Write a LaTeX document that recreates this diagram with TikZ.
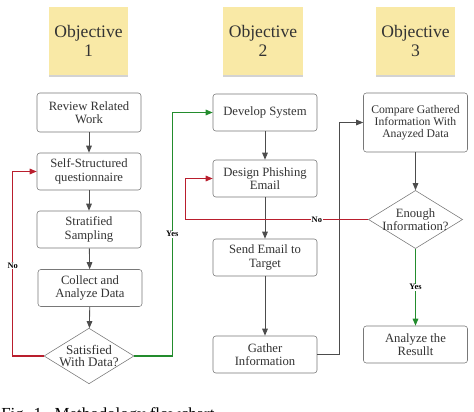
\documentclass[tikz,border=0pt]{standalone}
\usepackage{fontspec}
\setmainfont{Liberation Serif}
\usetikzlibrary{shapes.geometric,arrows.meta,shadows}
\definecolor{notey}{RGB}{249,233,166}
\definecolor{nored}{RGB}{185,30,45}
\definecolor{yesgreen}{RGB}{35,140,45}
\definecolor{boxline}{RGB}{120,120,120}

\begin{document}
\begin{tikzpicture}[x=0.025cm,y=-0.025cm,
  note/.style={fill=notey, minimum width=1.975cm, minimum height=1.7cm, align=center, text=black!80,
    font=\fontsize{12.5}{13}\selectfont, drop shadow={shadow xshift=0pt, shadow yshift=-1.5pt, opacity=.35}},
  stepbox/.style={draw=boxline, rounded corners=2pt, fill=white, minimum width=2.6cm, minimum height=0.925cm,
    align=center, text=black!80, font=\fontsize{9}{9.4}\selectfont},
  decide/.style={diamond, draw=boxline, fill=white, aspect=1.62, inner sep=-1pt, minimum width=2.25cm,
    minimum height=1.39cm, align=center, text=black!80, font=\fontsize{9.3}{9}\selectfont},
  flow/.style={draw=black!70, line width=.6pt, -{Triangle[length=5pt,width=4pt]}},
  noline/.style={draw=nored, line width=.8pt, -{Triangle[length=5pt,width=4pt]}},
  yesline/.style={draw=yesgreen, line width=.8pt, -{Triangle[length=5pt,width=4pt]}},
  lbl/.style={fill=white, inner sep=.5pt, text=black, font=\fontsize{6}{7}\selectfont\bfseries}]
\useasboundingbox (0,0) rectangle (474,412);

% objectives
\node[note] (obj1) at (88.5,41) {Objective\\1};
\node[note] (obj2) at (263,41) {Objective\\2};
\node[note] (obj3) at (415.5,41) {Objective\\3};

% objective 1
\node[stepbox, minimum height=0.975cm] (review) at (89,112.5) {Review Related\\Work};
\node[stepbox] (selfq) at (89,171.5) {Self-Structured\\questionnaire};
\node[stepbox] (strat) at (89,229.5) {Stratified\\Sampling};
\node[stepbox] (collect) at (90,288) {Collect and\\Analyze Data};
\node[decide] (satis) at (89,356) {Satisfied\\With Data?};

% objective 2
\node[stepbox] (develop) at (265,112.5) {Develop System};
\node[stepbox] (design) at (265,178.5) {Design Phishing\\Email};
\node[stepbox] (send) at (265,257.5) {Send Email to\\Target};
\node[stepbox] (gather) at (265,354.5) {Gather\\Information};

% objective 3
\node[stepbox, minimum height=1.475cm, font=\fontsize{8.3}{8.4}\selectfont] (compare) at (415.5,122.5) {Compare Gathered\\Information With\\Anayzed Data};
\node[decide, minimum width=2.225cm, minimum height=1.375cm, font=\fontsize{9}{9.2}\selectfont] (enough) at (415.5,219.5) {Enough\\Information?};
\node[stepbox] (analyze) at (415.5,344.5) {Analyze the\\Resullt};

\draw[flow] (review) -- (selfq);
\draw[flow] (selfq) -- (strat);
\draw[flow] (strat) -- (collect);
\draw[flow] (collect) -- (satis);
\draw[flow] (develop) -- (design);
\draw[flow] (design) -- (send);
\draw[flow] (send) -- (gather);
\draw[flow] (compare) -- (enough);
\draw[flow] (gather.east) -- ++(22,0) |- (compare.west);

\draw[noline] (satis.west) -- ++(-31,0) |- (selfq.west) node[pos=.245, lbl] {No};
\draw[yesline] (satis.east) -- ++(38,0) |- (develop.west) node[pos=.25, lbl] {Yes};
\draw[noline] (enough.west) -- node[pos=.28, lbl] {No} ++(-183,0) |- (design.west);
\draw[yesline] (enough.south) -- (analyze.north) node[midway, lbl] {Yes};

\node[anchor=base west, inner sep=0pt, font=\fontsize{12}{14}\selectfont] (caption) at (1,419) {Fig. 1.\ \ Methodology flowchart};
\end{tikzpicture}
\end{document}
